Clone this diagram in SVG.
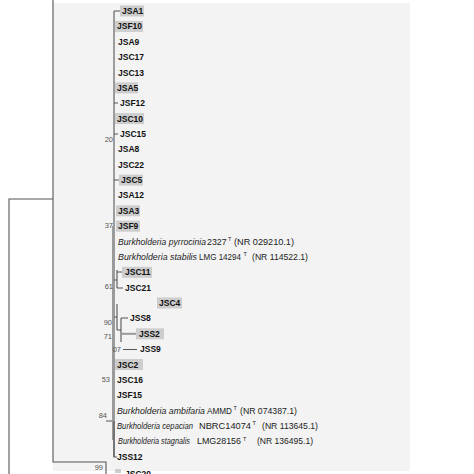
<svg xmlns="http://www.w3.org/2000/svg" width="474" height="474" viewBox="0 0 474 474">
<defs>
<style>
.lab{font-family:"Liberation Sans",Arial,sans-serif;font-weight:bold;font-size:8.5px;fill:#111}
.sp{font-family:"Liberation Sans",Arial,sans-serif;font-size:8.8px;fill:#222}
.it{font-style:italic}
.sup{font-family:"Liberation Sans",Arial,sans-serif;font-size:5.5px;fill:#222}
.bs{font-family:"Liberation Sans",Arial,sans-serif;font-size:7.5px;fill:#555;text-anchor:end}
.hl{fill:#cdcdcd}
.br{stroke:#555;stroke-width:1.1;fill:none}
.gb{stroke:#9a9a9a;stroke-width:2;fill:none}
</style>
</defs>
<rect x="0" y="0" width="474" height="474" fill="#ffffff"/>
<rect x="53" y="3" width="357" height="468" fill="#f3f3f3"/>
<g id="connectors">
<path class="br" d="M9,474 V199 H53 M53,0 V462 H106 V474 M106,421 H114"/>
<path class="br" d="M114,11 V457 H117"/>
<path class="gb" d="M113,226 V440"/>
<path class="br" d="M114,11 H120 M114,103 H118 M114,134 H118 M114,180 H119"/>
<path class="br" d="M114,280 H117 M117,270 V288 M117,272 H122 M117,288 H123"/>
<path class="gb" d="M117,304 V330"/>
<path class="br" d="M114,317 H117 M117,330 H121 M121,318 V342 M121,318 H128 M123,349.5 H137"/>
<path class="gb" d="M121,333.8 H136"/>
<path class="br" d="M114,421 V457"/>
</g>
<g id="n-JSA1"><rect class="hl" x="120" y="5.5" width="24" height="11"/><text class="lab" x="122" y="14">JSA1</text></g>
<g id="n-JSF10"><rect class="hl" x="115" y="20.9" width="28" height="11"/><text class="lab" x="117" y="29.4">JSF10</text></g>
<g id="n-JSA9"><text class="lab" x="118" y="44.7">JSA9</text></g>
<g id="n-JSC17"><text class="lab" x="118" y="60.1">JSC17</text></g>
<g id="n-JSC13"><text class="lab" x="118" y="75.5">JSC13</text></g>
<g id="n-JSA5"><rect class="hl" x="115" y="82.4" width="23" height="11"/><text class="lab" x="117" y="90.9">JSA5</text></g>
<g id="n-JSF12"><text class="lab" x="120" y="106.2">JSF12</text></g>
<g id="n-JSC10"><rect class="hl" x="115" y="113.1" width="29" height="11"/><text class="lab" x="117" y="121.6">JSC10</text></g>
<g id="n-JSC15"><text class="lab" x="120" y="137">JSC15</text></g>
<g id="n-JSA8"><text class="lab" x="118" y="152.3">JSA8</text></g>
<g id="n-JSC22"><text class="lab" x="118" y="167.7">JSC22</text></g>
<g id="n-JSC5"><rect class="hl" x="119" y="174.6" width="24" height="11"/><text class="lab" x="121" y="183.1">JSC5</text></g>
<g id="n-JSA12"><text class="lab" x="118" y="198.4">JSA12</text></g>
<g id="n-JSA3"><rect class="hl" x="116" y="205.3" width="24" height="11"/><text class="lab" x="118" y="213.8">JSA3</text></g>
<g id="n-JSF9"><rect class="hl" x="116" y="220.7" width="24" height="11"/><text class="lab" x="118" y="229.2">JSF9</text></g>
<g id="n-pyrrocinia">
<text class="sp it" x="118" y="244.6" textLength="88" lengthAdjust="spacingAndGlyphs">Burkholderia pyrrocinia</text>
<text class="sp" x="207" y="244.6">2327</text>
<text class="sup" x="228" y="241">T</text>
<text class="sp" x="234" y="244.6" textLength="60" lengthAdjust="spacingAndGlyphs">(NR 029210.1)</text>
</g>
<g id="n-stabilis">
<text class="sp it" x="118" y="259.9" textLength="79" lengthAdjust="spacingAndGlyphs">Burkholderia stabilis</text>
<text class="sp" x="199" y="259.9" textLength="42" lengthAdjust="spacingAndGlyphs">LMG 14294</text>
<text class="sup" x="243.5" y="256.3">T</text>
<text class="sp" x="252" y="259.9" textLength="56" lengthAdjust="spacingAndGlyphs">(NR 114522.1)</text>
</g>
<g id="n-JSC11"><rect class="hl" x="122" y="266.8" width="30" height="11"/><text class="lab" x="125" y="275.3">JSC11</text></g>
<g id="n-JSC21"><text class="lab" x="125" y="290.7">JSC21</text></g>
<g id="n-JSC4"><rect class="hl" x="157" y="297.5" width="25" height="11"/><text class="lab" x="159" y="306">JSC4</text></g>
<g id="n-JSS8"><text class="lab" x="130" y="321.4">JSS8</text></g>
<g id="n-JSS2"><rect class="hl" x="136" y="328.3" width="28" height="11"/><text class="lab" x="139" y="336.8">JSS2</text></g>
<g id="n-JSS9"><text class="lab" x="140" y="352.1">JSS9</text></g>
<g id="n-JSC2"><rect class="hl" x="115" y="359" width="28" height="11"/><text class="lab" x="117" y="367.5">JSC2</text></g>
<g id="n-JSC16"><text class="lab" x="117" y="382.9">JSC16</text></g>
<g id="n-JSF15"><text class="lab" x="117" y="398.3">JSF15</text></g>
<g id="n-ambifaria">
<text class="sp it" x="117" y="413.6" textLength="88" lengthAdjust="spacingAndGlyphs">Burkholderia ambifaria</text>
<text class="sp" x="207" y="413.6" textLength="25" lengthAdjust="spacingAndGlyphs">AMMD</text>
<text class="sup" x="233.5" y="410">T</text>
<text class="sp" x="240" y="413.6" textLength="57" lengthAdjust="spacingAndGlyphs">(NR 074387.1)</text>
</g>
<g id="n-cepacian">
<text class="sp it" x="117" y="429" textLength="76" lengthAdjust="spacingAndGlyphs">Burkholderia cepacian</text>
<text class="sp" x="199" y="429" textLength="52" lengthAdjust="spacingAndGlyphs">NBRC14074</text>
<text class="sup" x="252.5" y="425.4">T</text>
<text class="sp" x="262" y="429" textLength="56" lengthAdjust="spacingAndGlyphs">(NR 113645.1)</text>
</g>
<g id="n-stagnalis">
<text class="sp it" x="118" y="444.4" textLength="72" lengthAdjust="spacingAndGlyphs">Burkholderia stagnalis</text>
<text class="sp" x="197" y="444.4" textLength="44" lengthAdjust="spacingAndGlyphs">LMG28156</text>
<text class="sup" x="243" y="440.8">T</text>
<text class="sp" x="257" y="444.4" textLength="56" lengthAdjust="spacingAndGlyphs">(NR 136495.1)</text>
</g>
<g id="n-JSS12"><text class="lab" x="117" y="459.7">JSS12</text></g>
<g id="n-JSC20"><rect class="hl" x="115" y="469" width="6" height="4"/><text class="lab" x="125" y="477">JSC20</text></g>
<g id="bootstrap">
<text class="bs" x="113" y="142">20</text>
<text class="bs" x="113" y="228">37</text>
<text class="bs" x="113" y="289">61</text>
<text class="bs" x="112" y="325">90</text>
<text class="bs" x="112" y="339">71</text>
<text class="bs" x="121" y="352">07</text>
<text class="bs" x="110" y="382">53</text>
<text class="bs" x="107" y="418">84</text>
<text class="bs" x="103" y="470">99</text>
</g>
</svg>
